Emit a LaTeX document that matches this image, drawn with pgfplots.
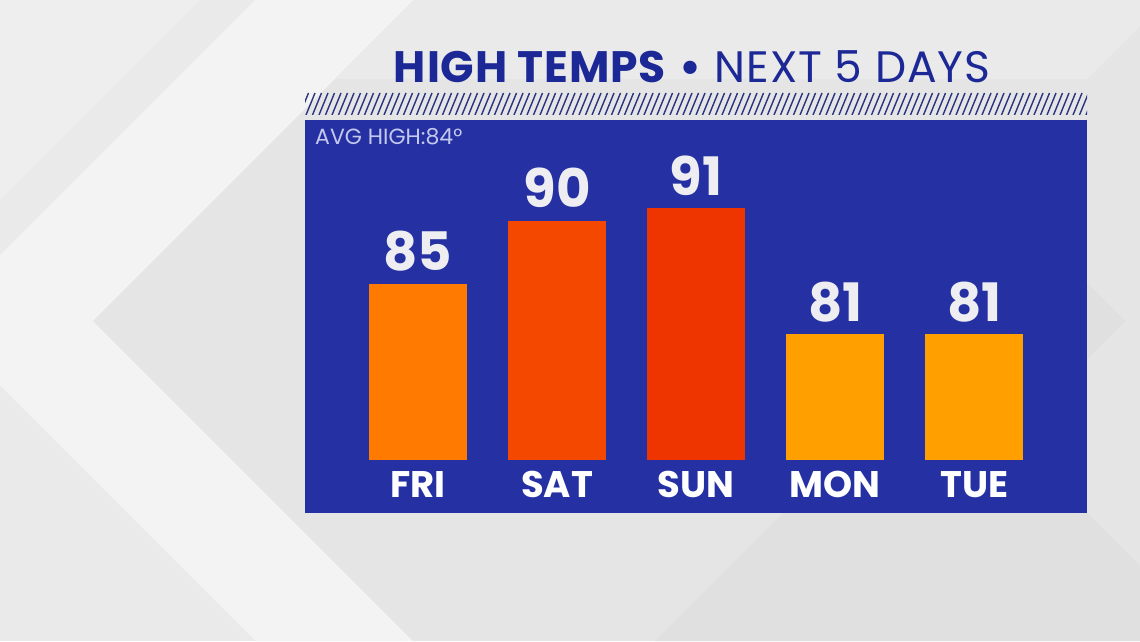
\documentclass[border=0pt]{standalone}
\usepackage{pgfplots}
\pgfplotsset{compat=1.18}
\usepackage{fontspec}
\setmainfont{Poppins}
\definecolor{bgA}{HTML}{EAEAEB}
\definecolor{bgLight}{HTML}{F3F3F4}
\definecolor{bgDark}{HTML}{E5E5E6}
\definecolor{bgDarker}{HTML}{E0E0E1}
\definecolor{panel}{HTML}{2531A2}
\definecolor{titlec}{HTML}{1C2895}
\definecolor{hatchc}{HTML}{2A3380}
\definecolor{numc}{HTML}{EDEDF2}
\definecolor{avgc}{HTML}{C5C8EE}
\definecolor{cFri}{HTML}{FF7A00}
\definecolor{cSat}{HTML}{F44800}
\definecolor{cSun}{HTML}{EE3500}
\definecolor{cMon}{HTML}{FFA000}
\begin{document}
\begin{tikzpicture}[x=1pt,y=1pt]
% background
\fill[bgA] (0,0) rectangle (1140,641);
\begin{scope}
\clip (0,0) rectangle (1140,641);
\fill[bgLight] (255,641) -- (414,641) -- (93,320) -- (413,0) -- (256,0) -- (-65,321) -- cycle;
\fill[bgDark] (93,320) -- (414,641) -- (1140,641) -- (1140,0) -- (413,0) -- cycle;
\fill[bgA] (335,562) -- (414,641) -- (1140,641) -- (1140,615) -- (1087,562) -- cycle;
\fill[bgDarker] (655,0) -- (783,128) -- (1087,128) -- (1140,75) -- (1140,0) -- cycle;
\fill[bgDarker] (1087,358) -- (1125,320) -- (1087,282) -- cycle;
\fill[bgLight!50!bgA] (0,641) -- (200,641) -- (0,441) -- cycle;
\end{scope}
% hatched stripe
\begin{scope}
\clip (305,526) rectangle (1087,548);
\foreach \i in {-12,-5.5,...,790} \draw[hatchc, line width=1.4pt] (305+\i,526) -- (305+\i+9,548);
\end{scope}
% panel
\fill[panel] (305,128) rectangle (1087,521);
% title
\node[anchor=base, inner sep=0pt, text=titlec, font=\fontsize{44}{44}\selectfont\addfontfeatures{LetterSpace=2}] at (692,558)
  {\textbf{HIGH TEMPS} \textbf{•} NEXT 5 DAYS};
% avg high
\node[anchor=base west, inner sep=0pt, text=avgc, font=\fontsize{22}{22}\selectfont] at (315,496) {AVG HIGH:84°};
\begin{axis}[
  at={(305pt,181pt)}, anchor=south west,
  scale only axis, width=782pt, height=340pt,
  xmin=-0.812, xmax=4.81, ymin=71, ymax=98,
  axis line style={draw=none}, tick style={draw=none},
  ytick=\empty,
  xtick={0,1,2,3,4},
  xticklabels={FRI,SAT,SUN,MON,TUE},
  xticklabel style={anchor=base, yshift=-33pt, inner sep=0pt, text=white,
    font=\fontsize{37}{37}\selectfont\bfseries},
  ybar, bar width=98pt,
  every axis plot/.append style={bar shift=0pt},
  /pgf/number format/assume math mode=true,
  nodes near coords,
  every node near coord/.append style={anchor=base, yshift=13pt, inner sep=0pt,
    text=numc, font=\fontsize{53}{53}\selectfont\bfseries},
]
\addplot[fill=cFri, draw=none] coordinates {(0,85)};
\addplot[fill=cSat, draw=none] coordinates {(1,90)};
\addplot[fill=cSun, draw=none] coordinates {(2,91)};
\addplot[fill=cMon, draw=none] coordinates {(3,81)};
\addplot[fill=cMon, draw=none] coordinates {(4,81)};
\end{axis}
\end{tikzpicture}
\end{document}
